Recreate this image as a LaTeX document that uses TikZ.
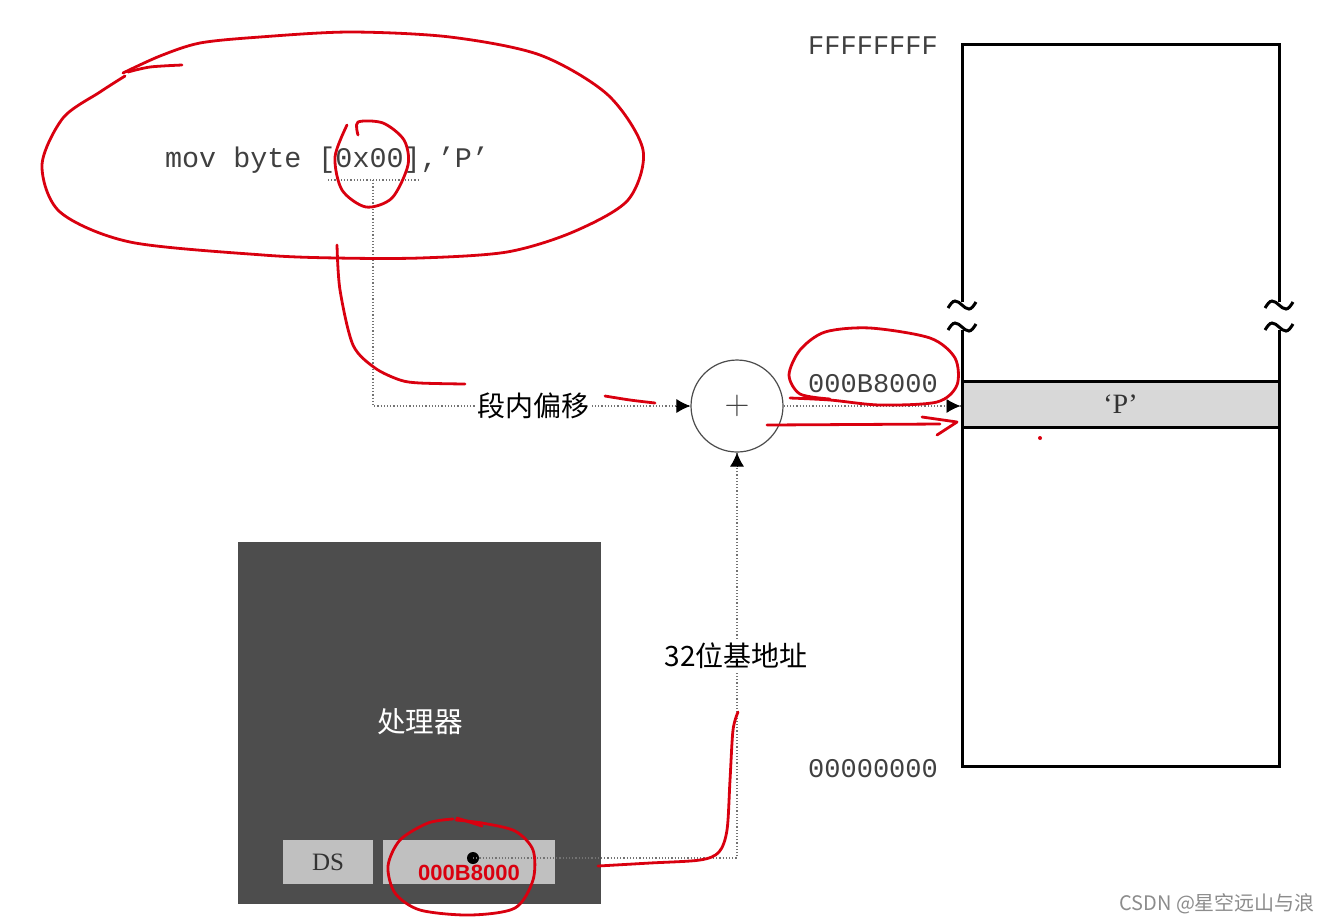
\documentclass[tikz,border=0pt]{standalone}
\usepackage{fontspec}
\setmainfont{Liberation Serif}
\newfontfamily\cjk{Noto Sans CJK SC}
\newfontfamily\monof{Liberation Mono}
\newfontfamily\sansf{Liberation Sans}
\usetikzlibrary{arrows.meta}
\definecolor{pen}{HTML}{D9000F}
\definecolor{cpugray}{HTML}{4D4D4D}
\definecolor{reggray}{HTML}{C0C0C0}
\definecolor{cellgray}{HTML}{D8D8D8}
\tikzset{
  memline/.style={line width=1.5pt, black},
  dotline/.style={densely dotted, line width=0.6pt, black!55},
  tip/.style={-{Latex[length=7pt,width=7pt]}},
  lbl/.style={fill=white, inner sep=1pt, font=\cjk\fontsize{14}{14}\selectfont},
  addr/.style={font=\monof\fontsize{13.5}{14}\selectfont, text=black!75},
  redpen/.style={pen, line width=1.4pt, line cap=round, line join=round},
  regbox/.style={fill=reggray, draw=none, minimum height=22pt, inner sep=0pt},
}
\begin{document}
\begin{tikzpicture}[x=0.5pt,y=-0.5pt]
\useasboundingbox (0,0) rectangle (1336,923);

% memory column
\draw[memline] (962,302) -- (962,44) -- (1279,44) -- (1279,302);
\draw[memline] (962,330) -- (962,766) -- (1279,766) -- (1279,330);
\foreach \xx in {962,1279}{
  \foreach \yy in {305,327}{
    \draw[line width=1.5pt, shift={(\xx,\yy)}] (-14,3) sin (-7,-4) cos (0,0) sin (7,4) cos (14,-3);
  }
}
\node[memline, draw, fill=cellgray, minimum width=158.5pt, minimum height=23pt, inner sep=0pt,
      font=\fontsize{14}{14}\selectfont, text=black!80] (cell) at (1120.5,404) {‘P’};

\node[addr] (ftop) at (873,46) {FFFFFFFF};
\node[addr] (fmid) at (873,384) {000B8000};
\node[addr] (fbot) at (873,769) {00000000};

% instruction
\node[font=\monof\fontsize{14.2}{15}\selectfont, text=black!75] (instr) at (327,160) {mov byte [0x00],’P’};
\coordinate (ulL) at (328,180);
\coordinate (ulR) at (418,180);
\coordinate (src) at (373,180);
\draw[dotline] (ulL) -- (ulR);

% adder
\node[circle, draw=black!70, line width=0.6pt, minimum size=46pt, inner sep=0pt,
      font=\fontsize{18}{18}\selectfont, text=black!75] (plus) at (737,406) {$+$};

% processor
\node[fill=cpugray, draw=black!70, line width=0.5pt, minimum width=181pt, minimum height=180.5pt, inner sep=0pt] (cpu) at (419,722.5) {};
\node[font=\cjk\fontsize{14.3}{15}\selectfont, text=white] (cpulbl) at (420,722) {处理器};
\node[regbox, minimum width=45pt, font=\fontsize{12.5}{13}\selectfont, text=black!80] (ds) at (328,862) {DS};
\node[regbox, minimum width=86pt] (dsval) at (469,862) {};
\node[font=\sansf\bfseries\fontsize{11}{12}\selectfont, text=pen] (dsvaltxt) at (469,873) {000B8000};
\node[circle, fill=black, minimum size=6pt, inner sep=0pt] (dot) at (473,858) {};

% connectors
\draw[dotline] (src) |- (plus.west);
\draw[tip] ([xshift=-7pt]plus.west) -- (plus.west);
\draw[dotline] (plus.east) -- (plus.east -| cell.west);
\draw[tip] ([xshift=-7pt]plus.east -| cell.west) -- (plus.east -| cell.west);
\draw[dotline] (dot.center) -| (plus.south);
\draw[tip] ([yshift=-7pt]plus.south) -- (plus.south);

\node[lbl] (offlbl) at (533,406) {段内偏移};
\node[lbl] (baselbl) at (736,656) {32位基地址};

% watermark
\node[font=\cjk\fontsize{10}{10}\selectfont, text=black!45, anchor=east] (wm) at (1322,904) {CSDN @星空远山与浪};

% hand-drawn red annotations
\draw[redpen] plot[smooth] coordinates {(128,72) (150,67) (182,65)};
\draw[redpen] plot[smooth] coordinates {(123,73) (160,56) (200,43) (260,37) (350,32) (450,37) (540,55) (608,95) (643,150) (628,200) (573,232) (507,252) (420,258) (337,258) (263,255) (130,242) (60,212) (42,165) (63,118) (100,92) (125,76)};
\draw[redpen] plot[smooth] coordinates {(358,135) (358,122) (383,123) (404,140) (408,165) (392,198) (366,207) (342,190) (335,157) (347,125)};
\draw[redpen] plot[smooth] coordinates {(337,245) (340,290) (353,345) (375,368) (400,380) (420,383) (465,384)};
\draw[redpen] plot[smooth] coordinates {(605,396) (630,400) (655,403)};
\draw[redpen] plot[smooth] coordinates {(790,398) (830,400) (880,405) (937,402) (957,385) (955,358) (930,338) (870,328) (825,332) (800,350) (789,375) (800,394) (830,399)};
\draw[redpen] (767,425) -- (940,424);
\draw[redpen] (922,417) -- (957,422) -- (937,435);
\fill[pen] (1040,438) circle (1pt);
\draw[redpen] plot[smooth] coordinates {(453,819) (428,823) (400,840) (388,866) (395,893) (420,910) (470,915) (515,908) (533,880) (533,850) (515,831) (482,823) (456,820)};
\draw[redpen] (457,818) -- (482,826);
\draw[redpen] plot[smooth] coordinates {(598,866) (650,863) (700,860) (719,852) (727,830) (730,780) (733,730) (738,712)};
\end{tikzpicture}
\end{document}
